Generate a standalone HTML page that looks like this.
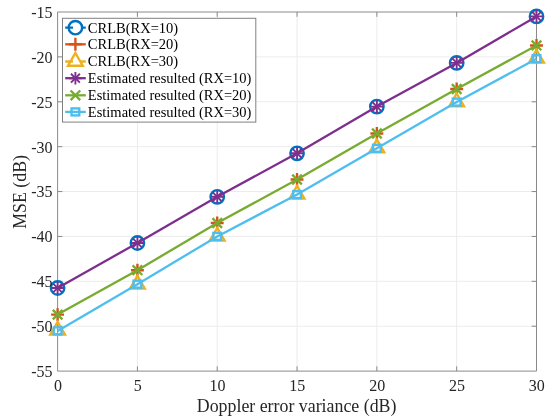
<!DOCTYPE html>
<html><head><meta charset="utf-8"><title>plot</title><style>html,body{margin:0;padding:0;background:#fff}svg{display:block}</style></head><body>
<svg width="550" height="419" viewBox="0 0 550 419" style="display:block">
<rect width="550" height="419" fill="#fff"/>
<path d="M137.42 12.0V371.1M217.23 12.0V371.1M297.05 12.0V371.1M376.87 12.0V371.1M456.68 12.0V371.1M57.6 56.89H536.5M57.6 101.78H536.5M57.6 146.66H536.5M57.6 191.55H536.5M57.6 236.44H536.5M57.6 281.33H536.5M57.6 326.21H536.5" stroke="#ececec" stroke-width="1" fill="none"/>
<path d="M57.6 12.0H536.5V371.1H57.6ZM137.42 371.1v-4.8M137.42 12.0v4.8M217.23 371.1v-4.8M217.23 12.0v4.8M297.05 371.1v-4.8M297.05 12.0v4.8M376.87 371.1v-4.8M376.87 12.0v4.8M456.68 371.1v-4.8M456.68 12.0v4.8M57.6 56.89h4.8M536.5 56.89h-4.8M57.6 101.78h4.8M536.5 101.78h-4.8M57.6 146.66h4.8M536.5 146.66h-4.8M57.6 191.55h4.8M536.5 191.55h-4.8M57.6 236.44h4.8M536.5 236.44h-4.8M57.6 281.33h4.8M536.5 281.33h-4.8M57.6 326.21h4.8M536.5 326.21h-4.8" stroke="#8a8a8a" stroke-width="1" fill="none"/>
<circle cx="57.60" cy="288.00" r="6.7" fill="none" stroke="#0072BD" stroke-width="2.4"/>
<circle cx="137.42" cy="243.00" r="6.7" fill="none" stroke="#0072BD" stroke-width="2.4"/>
<circle cx="217.23" cy="196.80" r="6.7" fill="none" stroke="#0072BD" stroke-width="2.4"/>
<circle cx="297.05" cy="153.30" r="6.7" fill="none" stroke="#0072BD" stroke-width="2.4"/>
<circle cx="376.87" cy="106.60" r="6.7" fill="none" stroke="#0072BD" stroke-width="2.4"/>
<circle cx="456.68" cy="62.90" r="6.7" fill="none" stroke="#0072BD" stroke-width="2.4"/>
<circle cx="536.50" cy="16.40" r="6.7" fill="none" stroke="#0072BD" stroke-width="2.4"/>
<path d="M51.15 314.60H64.05M57.60 308.15V321.05" fill="none" stroke="#D95319" stroke-width="2.4"/>
<path d="M130.97 270.20H143.87M137.42 263.75V276.65" fill="none" stroke="#D95319" stroke-width="2.4"/>
<path d="M210.78 223.00H223.68M217.23 216.55V229.45" fill="none" stroke="#D95319" stroke-width="2.4"/>
<path d="M290.60 179.50H303.50M297.05 173.05V185.95" fill="none" stroke="#D95319" stroke-width="2.4"/>
<path d="M370.42 133.50H383.32M376.87 127.05V139.95" fill="none" stroke="#D95319" stroke-width="2.4"/>
<path d="M450.23 89.00H463.13M456.68 82.55V95.45" fill="none" stroke="#D95319" stroke-width="2.4"/>
<path d="M530.05 45.45H542.95M536.50 39.00V51.90" fill="none" stroke="#D95319" stroke-width="2.4"/>
<path d="M57.60 321.80L64.96 334.55H50.24Z" fill="none" stroke="#EDB120" stroke-width="2.4" stroke-linejoin="miter"/>
<path d="M137.42 275.90L144.78 288.65H130.06Z" fill="none" stroke="#EDB120" stroke-width="2.4" stroke-linejoin="miter"/>
<path d="M217.23 227.90L224.59 240.65H209.87Z" fill="none" stroke="#EDB120" stroke-width="2.4" stroke-linejoin="miter"/>
<path d="M297.05 185.90L304.41 198.65H289.69Z" fill="none" stroke="#EDB120" stroke-width="2.4" stroke-linejoin="miter"/>
<path d="M376.87 139.60L384.23 152.35H369.51Z" fill="none" stroke="#EDB120" stroke-width="2.4" stroke-linejoin="miter"/>
<path d="M456.68 93.50L464.04 106.25H449.32Z" fill="none" stroke="#EDB120" stroke-width="2.4" stroke-linejoin="miter"/>
<path d="M536.50 49.90L543.86 62.65H529.14Z" fill="none" stroke="#EDB120" stroke-width="2.4" stroke-linejoin="miter"/>
<polyline points="57.60,288.00 137.42,243.00 217.23,196.80 297.05,153.30 376.87,106.60 456.68,62.90 536.50,16.40" fill="none" stroke="#7E2F8E" stroke-width="2.3" stroke-linejoin="round"/>
<path d="M51.30 288.00H63.90M57.60 281.70V294.30" fill="none" stroke="#7E2F8E" stroke-width="1.9"/><path d="M53.15 283.55L62.05 292.45M53.15 292.45L62.05 283.55" fill="none" stroke="#7E2F8E" stroke-width="1.9"/>
<path d="M131.12 243.00H143.72M137.42 236.70V249.30" fill="none" stroke="#7E2F8E" stroke-width="1.9"/><path d="M132.97 238.55L141.87 247.45M132.97 247.45L141.87 238.55" fill="none" stroke="#7E2F8E" stroke-width="1.9"/>
<path d="M210.93 196.80H223.53M217.23 190.50V203.10" fill="none" stroke="#7E2F8E" stroke-width="1.9"/><path d="M212.78 192.35L221.68 201.25M212.78 201.25L221.68 192.35" fill="none" stroke="#7E2F8E" stroke-width="1.9"/>
<path d="M290.75 153.30H303.35M297.05 147.00V159.60" fill="none" stroke="#7E2F8E" stroke-width="1.9"/><path d="M292.60 148.85L301.50 157.75M292.60 157.75L301.50 148.85" fill="none" stroke="#7E2F8E" stroke-width="1.9"/>
<path d="M370.57 106.60H383.17M376.87 100.30V112.90" fill="none" stroke="#7E2F8E" stroke-width="1.9"/><path d="M372.42 102.15L381.32 111.05M372.42 111.05L381.32 102.15" fill="none" stroke="#7E2F8E" stroke-width="1.9"/>
<path d="M450.38 62.90H462.98M456.68 56.60V69.20" fill="none" stroke="#7E2F8E" stroke-width="1.9"/><path d="M452.23 58.45L461.13 67.35M452.23 67.35L461.13 58.45" fill="none" stroke="#7E2F8E" stroke-width="1.9"/>
<path d="M530.20 16.40H542.80M536.50 10.10V22.70" fill="none" stroke="#7E2F8E" stroke-width="1.9"/><path d="M532.05 11.95L540.95 20.85M532.05 20.85L540.95 11.95" fill="none" stroke="#7E2F8E" stroke-width="1.9"/>
<polyline points="57.60,314.60 137.42,270.20 217.23,223.00 297.05,179.50 376.87,133.50 456.68,89.00 536.50,45.45" fill="none" stroke="#77AC30" stroke-width="2.3" stroke-linejoin="round"/>
<path d="M52.80 309.80L62.40 319.40M52.80 319.40L62.40 309.80" fill="none" stroke="#77AC30" stroke-width="2.4"/>
<path d="M132.62 265.40L142.22 275.00M132.62 275.00L142.22 265.40" fill="none" stroke="#77AC30" stroke-width="2.4"/>
<path d="M212.43 218.20L222.03 227.80M212.43 227.80L222.03 218.20" fill="none" stroke="#77AC30" stroke-width="2.4"/>
<path d="M292.25 174.70L301.85 184.30M292.25 184.30L301.85 174.70" fill="none" stroke="#77AC30" stroke-width="2.4"/>
<path d="M372.07 128.70L381.67 138.30M372.07 138.30L381.67 128.70" fill="none" stroke="#77AC30" stroke-width="2.4"/>
<path d="M451.88 84.20L461.48 93.80M451.88 93.80L461.48 84.20" fill="none" stroke="#77AC30" stroke-width="2.4"/>
<path d="M531.70 40.65L541.30 50.25M531.70 50.25L541.30 40.65" fill="none" stroke="#77AC30" stroke-width="2.4"/>
<polyline points="57.60,330.90 137.42,284.20 217.23,236.40 297.05,194.60 376.87,148.30 456.68,102.10 536.50,58.70" fill="none" stroke="#4DBEEE" stroke-width="2.3" stroke-linejoin="round"/>
<rect x="53.75" y="327.40" width="7.70" height="7.00" fill="none" stroke="#4DBEEE" stroke-width="2.4"/>
<rect x="133.57" y="280.70" width="7.70" height="7.00" fill="none" stroke="#4DBEEE" stroke-width="2.4"/>
<rect x="213.38" y="232.90" width="7.70" height="7.00" fill="none" stroke="#4DBEEE" stroke-width="2.4"/>
<rect x="293.20" y="191.10" width="7.70" height="7.00" fill="none" stroke="#4DBEEE" stroke-width="2.4"/>
<rect x="373.02" y="144.80" width="7.70" height="7.00" fill="none" stroke="#4DBEEE" stroke-width="2.4"/>
<rect x="452.83" y="98.60" width="7.70" height="7.00" fill="none" stroke="#4DBEEE" stroke-width="2.4"/>
<rect x="532.65" y="55.20" width="7.70" height="7.00" fill="none" stroke="#4DBEEE" stroke-width="2.4"/>
<g font-family="'Liberation Serif',serif" font-size="16" fill="#262626">
<text x="57.90" y="391.0" text-anchor="middle">0</text>
<text x="137.72" y="391.0" text-anchor="middle">5</text>
<text x="217.53" y="391.0" text-anchor="middle">10</text>
<text x="297.35" y="391.0" text-anchor="middle">15</text>
<text x="377.17" y="391.0" text-anchor="middle">20</text>
<text x="456.98" y="391.0" text-anchor="middle">25</text>
<text x="536.80" y="391.0" text-anchor="middle">30</text>
<text x="52.6" y="17.90" text-anchor="end">-15</text>
<text x="52.6" y="62.79" text-anchor="end">-20</text>
<text x="52.6" y="107.68" text-anchor="end">-25</text>
<text x="52.6" y="152.56" text-anchor="end">-30</text>
<text x="52.6" y="197.45" text-anchor="end">-35</text>
<text x="52.6" y="242.34" text-anchor="end">-40</text>
<text x="52.6" y="287.23" text-anchor="end">-45</text>
<text x="52.6" y="332.11" text-anchor="end">-50</text>
<text x="52.6" y="377.00" text-anchor="end">-55</text>
</g>
<g font-family="'Liberation Serif',serif" font-size="17.85" fill="#262626">
<text x="296.6" y="411.6" text-anchor="middle">Doppler error variance (dB)</text>
<text transform="translate(26.2 191.9) rotate(-90)" text-anchor="middle">MSE (dB)</text>
</g>
<rect x="62.5" y="18.3" width="193.3" height="103.8" fill="#fff" stroke="#808080" stroke-width="1"/>
<g font-family="'Liberation Serif',serif" font-size="14.5" fill="#000">
<path d="M65.2 27.7H73M82.4 27.7H85.8" stroke="#0072BD" stroke-width="2.3" fill="none"/>
<circle cx="75.40" cy="27.70" r="6.7" fill="none" stroke="#0072BD" stroke-width="2.4"/>
<text x="87.8" y="32.60">CRLB(RX=10)</text>
<path d="M65.2 44.3H85.8" stroke="#D95319" stroke-width="2.3" fill="none"/>
<path d="M68.95 44.30H81.85M75.40 37.85V50.75" fill="none" stroke="#D95319" stroke-width="2.4"/>
<text x="87.8" y="49.20">CRLB(RX=20)</text>
<path d="M65.2 61.5H73M80.8 61.5H85.8" stroke="#EDB120" stroke-width="2.3" fill="none"/>
<path d="M75.40 53.00L82.76 65.75H68.04Z" fill="none" stroke="#EDB120" stroke-width="2.4" stroke-linejoin="miter"/>
<text x="87.8" y="66.40">CRLB(RX=30)</text>
<path d="M65.2 78.2H85.8" stroke="#7E2F8E" stroke-width="2.3" fill="none"/>
<path d="M69.10 78.20H81.70M75.40 71.90V84.50" fill="none" stroke="#7E2F8E" stroke-width="1.9"/><path d="M70.95 73.75L79.85 82.65M70.95 82.65L79.85 73.75" fill="none" stroke="#7E2F8E" stroke-width="1.9"/>
<text x="87.8" y="83.10">Estimated resulted (RX=10)</text>
<path d="M65.2 95.3H85.8" stroke="#77AC30" stroke-width="2.3" fill="none"/>
<path d="M70.60 90.50L80.20 100.10M70.60 100.10L80.20 90.50" fill="none" stroke="#77AC30" stroke-width="2.4"/>
<text x="87.8" y="100.20">Estimated resulted (RX=20)</text>
<path d="M65.2 111.9H85.8" stroke="#4DBEEE" stroke-width="2.3" fill="none"/>
<rect x="71.55" y="108.40" width="7.70" height="7.00" fill="none" stroke="#4DBEEE" stroke-width="2.4"/>
<text x="87.8" y="116.80">Estimated resulted (RX=30)</text>
</g>
</svg>
</body></html>
